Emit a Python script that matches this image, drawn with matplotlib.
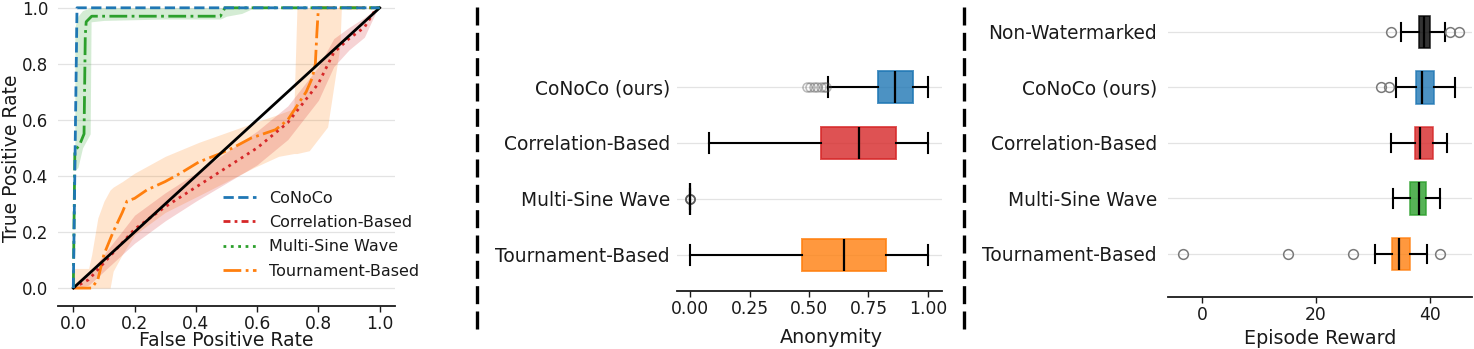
import matplotlib
matplotlib.use("Agg")
import matplotlib.pyplot as plt
from matplotlib.lines import Line2D

# ---------------- data ----------------
# ROC curves (False Positive Rate -> True Positive Rate)
conoco_fpr = [0.0, 0.012, 1.0]
conoco_tpr = [0.0, 1.0, 1.0]

multisine_fpr = [0.0, 0.005, 0.02, 0.035, 0.039, 0.042, 0.06, 0.48, 0.495, 1.0]
multisine_tpr = [0.0, 0.49, 0.51, 0.55, 0.90, 0.95, 0.97, 0.97, 1.0, 1.0]
multisine_band_fpr = [0.005, 0.015, 0.03, 0.055, 0.058, 0.1, 0.3, 0.48, 0.5, 0.55, 0.59]
multisine_band_lo = [0.42, 0.43, 0.50, 0.55, 0.95, 0.955, 0.96, 0.96, 0.97, 0.98, 1.0]
multisine_band_hi = [0.93, 0.97, 0.99, 1.0, 1.0, 1.0, 1.0, 1.0, 1.0, 1.0, 1.0]

corr_fpr = [0.0, 0.05, 0.1, 0.15, 0.2, 0.3, 0.4, 0.5, 0.6, 0.7, 0.75, 0.8, 0.85, 0.9, 0.95, 0.99, 1.0]
corr_tpr = [0.0, 0.03, 0.09, 0.15, 0.21, 0.29, 0.36, 0.43, 0.50, 0.59, 0.66, 0.73, 0.84, 0.89, 0.93, 1.0, 1.0]
corr_lo = [0.0, 0.01, 0.06, 0.11, 0.16, 0.24, 0.31, 0.375, 0.44, 0.53, 0.60, 0.67, 0.79, 0.85, 0.895, 0.99, 1.0]
corr_hi = [0.0, 0.05, 0.12, 0.19, 0.26, 0.34, 0.41, 0.485, 0.56, 0.65, 0.72, 0.79, 0.89, 0.93, 0.965, 1.0, 1.0]

tourn_fpr = [0.0, 0.06, 0.08, 0.10, 0.13, 0.16, 0.175, 0.2, 0.24, 0.30, 0.35, 0.41, 0.48,
             0.52, 0.58, 0.66, 0.70, 0.73, 0.76, 0.78, 0.79, 0.795, 0.80, 1.0]
tourn_tpr = [0.0, 0.0, 0.03, 0.12, 0.20, 0.27, 0.31, 0.32, 0.35, 0.38, 0.41, 0.45, 0.48,
             0.50, 0.535, 0.565, 0.60, 0.65, 0.70, 0.75, 0.80, 0.91, 1.0, 1.0]
tourn_band_fpr = [0.0, 0.05, 0.06, 0.08, 0.10, 0.12, 0.13, 0.16, 0.20, 0.30, 0.41, 0.50,
                  0.59, 0.67, 0.72, 0.73, 0.77, 0.83, 0.86, 0.87, 0.875, 1.0]
tourn_band_hi = [0.07, 0.07, 0.12, 0.25, 0.31, 0.35, 0.36, 0.38, 0.41, 0.47, 0.52, 0.555,
                 0.59, 0.62, 0.64, 1.0, 1.0, 1.0, 1.0, 1.0, 1.0, 1.0]
tourn_band_lo = [0.0, 0.0, 0.0, 0.0, 0.0, 0.0, 0.06, 0.12, 0.19, 0.27, 0.33, 0.38,
                 0.43, 0.47, 0.48, 0.48, 0.49, 0.575, 0.79, 0.86, 1.0, 1.0]

roc_labels = ["CoNoCo", "Correlation-Based", "Multi-Sine Wave", "Tournament-Based"]

# Anonymity box plots
anon_labels = ["CoNoCo (ours)", "Correlation-Based", "Multi-Sine Wave", "Tournament-Based"]
anon_q1 = [0.791, 0.549, 0.0, 0.469]
anon_med = [0.861, 0.711, 0.0, 0.648]
anon_q3 = [0.936, 0.864, 0.0, 0.822]
anon_whislo = [0.578, 0.081, 0.0, 0.0]
anon_whishi = [1.0, 1.0, 0.0, 1.0]
anon_fliers = [[0.49, 0.505, 0.52, 0.535, 0.55, 0.565, 0.57], [], [0.0, 0.0, 0.0, 0.0, 0.0, 0.0], []]

# Episode reward box plots
reward_labels = ["Non-Watermarked", "CoNoCo (ours)", "Correlation-Based", "Multi-Sine Wave", "Tournament-Based"]
reward_q1 = [38.1, 37.5, 37.4, 36.5, 33.4]
reward_med = [39.0, 38.7, 38.3, 38.1, 34.6]
reward_q3 = [40.1, 40.75, 40.6, 39.4, 36.5]
reward_whislo = [35.0, 34.0, 33.2, 33.6, 30.3]
reward_whishi = [42.6, 44.4, 43.0, 41.8, 39.5]
reward_fliers = [[33.1, 43.5, 45.1], [31.5, 32.8], [], [], [-3.3, 15.1, 26.5, 41.8]]

# ---------------- styling ----------------
W, H = 1474, 349
TXT = "#1a1a1a"
GRID = "#e3e3e3"
C_BLUE, C_RED, C_GREEN, C_ORANGE = "#1f77b4", "#d62728", "#2ca02c", "#ff7f0e"

plt.rcParams["font.family"] = ["DejaVu Sans"]
plt.rcParams["text.color"] = TXT
plt.rcParams["axes.labelcolor"] = TXT
plt.rcParams["xtick.color"] = TXT
plt.rcParams["ytick.color"] = TXT

fig = plt.figure(figsize=(W / 100, H / 100), dpi=100)


def add_axes_px(left, right, top, bottom):
    return fig.add_axes([left / W, 1 - bottom / H, (right - left) / W, (bottom - top) / H])


def style_axes(ax):
    for s in ("top", "right", "left"):
        ax.spines[s].set_visible(False)
    ax.spines["bottom"].set_linewidth(1.3)
    ax.spines["bottom"].set_color(TXT)
    ax.tick_params(axis="y", length=0, labelsize=12)
    ax.tick_params(axis="x", length=4, width=1, pad=2.5, labelsize=12.3)
    ax.grid(axis="y", color=GRID, lw=0.9)
    ax.grid(axis="x", visible=False)
    ax.set_axisbelow(True)


# ---------------- panel 1: ROC ----------------
ax1 = add_axes_px(58, 395, 5, 306)
style_axes(ax1)
ax1.fill_between(tourn_band_fpr, tourn_band_lo, tourn_band_hi, color=C_ORANGE, alpha=0.2, lw=0)
ax1.fill_between(corr_fpr, corr_lo, corr_hi, color=C_RED, alpha=0.2, lw=0)
ax1.fill_between(multisine_band_fpr, multisine_band_lo, multisine_band_hi, color=C_GREEN, alpha=0.2, lw=0)
ax1.plot(tourn_fpr, tourn_tpr, color=C_ORANGE, ls="-.", lw=2)
ax1.plot(corr_fpr, corr_tpr, color=C_RED, ls=":", lw=2)
ax1.plot([0, 1], [0, 1], color="black", lw=2)
ax1.plot(multisine_fpr, multisine_tpr, color=C_GREEN, ls="-.", lw=2)
ax1.plot(conoco_fpr, conoco_tpr, color=C_BLUE, ls="--", lw=2)
ax1.set_xlim(-0.05, 1.05)
ax1.set_ylim(-0.064, 1.01)
ax1.set_xticks([0.0, 0.2, 0.4, 0.6, 0.8, 1.0])
ax1.set_yticks([0.0, 0.2, 0.4, 0.6, 0.8, 1.0])
ax1.tick_params(axis="y", pad=7)
ax1.set_xlabel("False Positive Rate", fontsize=13.5)
ax1.xaxis.set_label_coords(0.5, -0.084)
ax1.set_ylabel("True Positive Rate", fontsize=13.5, va="center")
ax1.yaxis.set_label_coords(-0.137, 0.49)

handles = [
    Line2D([], [], color=C_BLUE, ls="--", lw=2),
    Line2D([], [], color=C_RED, ls=(0, (2.5, 1.5, 1, 1.5)), lw=2),
    Line2D([], [], color=C_GREEN, ls=":", lw=2),
    Line2D([], [], color=C_ORANGE, ls="-.", lw=2),
]
ax1.legend(handles, roc_labels, frameon=False, fontsize=11.5, loc="upper left",
           bbox_to_anchor=(210 / W, 1 - 178 / H), bbox_transform=fig.transFigure,
           labelspacing=0.58, handlelength=2.1, handletextpad=0.8, borderpad=0.3)

# ---------------- panel 2: Anonymity ----------------
ax2 = add_axes_px(677, 942, 3, 291)
style_axes(ax2)
anon_colors = [C_BLUE, C_RED, C_GREEN, C_ORANGE]
anon_stats = [dict(label=anon_labels[i], q1=anon_q1[i], med=anon_med[i], q3=anon_q3[i],
                   whislo=anon_whislo[i], whishi=anon_whishi[i], fliers=anon_fliers[i])
              for i in range(len(anon_labels))]
bp2 = ax2.bxp(anon_stats, positions=[1, 2, 3, 4], orientation="horizontal", widths=0.58,
              patch_artist=True, capwidths=0.34,
              medianprops=dict(color="black", lw=1.6),
              whiskerprops=dict(color="black", lw=1.5),
              capprops=dict(color="black", lw=1.5),
              flierprops=dict(marker="o", markersize=6.5, markerfacecolor="none",
                              markeredgecolor="#555555", alpha=0.4, markeredgewidth=1.1))
for patch, c in zip(bp2["boxes"], anon_colors):
    patch.set_facecolor(c)
    patch.set_alpha(0.8)
    patch.set_edgecolor(c)
    patch.set_linewidth(1.4)
ax2.set_xlim(-0.055, 1.059)
ax2.set_ylim(4.643, -0.5)
ax2.set_yticks([1, 2, 3, 4])
ax2.set_yticklabels(anon_labels, fontsize=13.4)
ax2.tick_params(axis="y", pad=5)
ax2.set_xticks([0.0, 0.25, 0.5, 0.75, 1.0])
ax2.set_xticklabels(["0.00", "0.25", "0.50", "0.75", "1.00"])
ax2.set_xlabel("Anonymity", fontsize=13.8)
ax2.xaxis.set_label_coords(0.584, -0.128)

# ---------------- panel 3: Episode Reward ----------------
ax3 = add_axes_px(1168, 1472, 4.25, 297)
style_axes(ax3)
reward_colors = ["black", C_BLUE, C_RED, C_GREEN, C_ORANGE]
reward_stats = [dict(label=reward_labels[i], q1=reward_q1[i], med=reward_med[i], q3=reward_q3[i],
                     whislo=reward_whislo[i], whishi=reward_whishi[i], fliers=reward_fliers[i])
                for i in range(len(reward_labels))]
bp3 = ax3.bxp(reward_stats, positions=[0, 1, 2, 3, 4], orientation="horizontal", widths=0.58,
              patch_artist=True, capwidths=0.34,
              medianprops=dict(color="black", lw=1.6),
              whiskerprops=dict(color="black", lw=1.5),
              capprops=dict(color="black", lw=1.5),
              flierprops=dict(marker="o", markersize=7, markerfacecolor="none",
                              markeredgecolor="#7a7a7a", markeredgewidth=1.1))
for patch, c in zip(bp3["boxes"], reward_colors):
    patch.set_facecolor(c)
    patch.set_alpha(0.8)
    patch.set_edgecolor(c)
    patch.set_linewidth(1.2)
ax3.set_xlim(-5.96, 47.4)
ax3.set_ylim(4.775, -0.5)
ax3.set_yticks([0, 1, 2, 3, 4])
ax3.set_yticklabels(reward_labels, fontsize=13.4)
ax3.tick_params(axis="y", pad=8)
ax3.set_xticks([0, 20, 40])
ax3.set_xlabel("Episode Reward", fontsize=13.8)
ax3.xaxis.set_label_coords(0.5, -0.108)

# ---------------- separators ----------------
for xp in (477, 964):
    fig.add_artist(Line2D([xp / W, xp / W], [1 - 7 / H, 1 - 333 / H], color="black",
                          lw=2.4, ls=(0, (5.4, 2.2)), transform=fig.transFigure))

fig.savefig("out.png", dpi=100)
